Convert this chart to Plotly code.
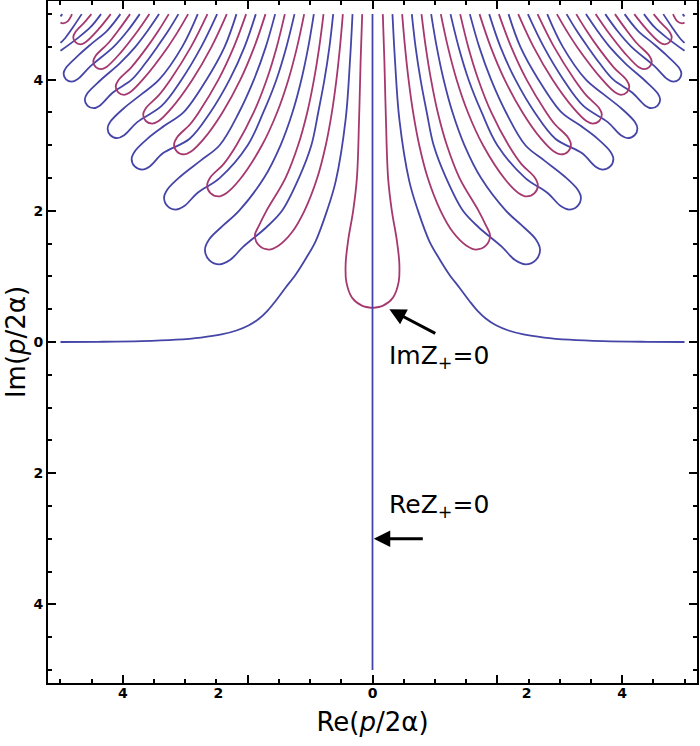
import plotly.graph_objects as go

BLUE = "#4545a8"
RED = "#a5386f"

# curves read off the right half (x >= 0); the left half is the mirror image
# Im Z+ = 0 : central drop
red_center = [(0.165, 5.0), (0.19, 4.3), (0.215, 3.4), (0.25, 2.5), (0.31, 2.0), (0.39, 1.55),
              (0.43, 1.2), (0.42, 0.92), (0.33, 0.68), (0.17, 0.555), (0.0, 0.52)]

# Re Z+ = 0 : curve that bends into the real axis
blue_sep = [(0.32, 5.0), (0.36, 4.3), (0.43, 3.4), (0.59, 2.45), (0.73, 2.0), (0.91, 1.54), (1.07, 1.27),
            (1.23, 1.03), (1.40, 0.82), (1.55, 0.63), (1.68, 0.48), (1.82, 0.355), (1.98, 0.255),
            (2.18, 0.175), (2.42, 0.115), (2.75, 0.068), (3.15, 0.035), (3.7, 0.013), (4.4, 0.003),
            (5.0, 0.0)]

# Im Z+ = 0 fingers
red_1 = [(0.475, 5.0), (0.521, 4.5), (0.578, 4.0), (0.651, 3.5), (0.749, 3.0), (0.886, 2.5), (1.091, 2.0),
         (1.291, 1.673), (1.501, 1.473), (1.66, 1.41), (1.819, 1.473), (1.885, 1.624), (1.819, 1.775),
         (1.70, 2.0), (1.395, 2.5), (1.192, 3.0), (1.046, 3.5), (0.938, 4.0), (0.853, 4.5), (0.785, 5.0)]
red_2 = [(1.095, 5.0), (1.208, 4.5), (1.348, 4.0), (1.529, 3.5), (1.771, 3.0), (2.133, 2.47), (2.343, 2.27),
         (2.47, 2.22), (2.597, 2.27), (2.65, 2.391), (2.597, 2.512), (2.387, 2.712), (2.181, 3.0),
         (1.904, 3.5), (1.696, 4.0), (1.534, 4.5), (1.405, 5.0)]
red_3 = [(1.715, 5.0), (1.894, 4.5), (2.117, 4.0), (2.404, 3.5), (2.697, 3.104), (2.907, 2.904), (3.02, 2.86),
         (3.133, 2.904), (3.18, 3.012), (3.133, 3.12), (2.923, 3.32), (2.785, 3.5), (2.469, 4.0),
         (2.222, 4.5), (2.025, 5.0)]
red_4 = [(2.335, 5.0), (2.580, 4.5), (2.886, 4.0), (3.217, 3.57), (3.427, 3.37), (3.53, 3.33), (3.633, 3.37),
         (3.675, 3.468), (3.633, 3.565), (3.423, 3.765), (3.238, 4.0), (2.909, 4.5), (2.645, 5.0)]
red_5 = [(2.955, 5.0), (3.108, 4.75), (3.278, 4.5), (3.675, 4.008), (3.885, 3.808), (3.98, 3.77),
         (4.075, 3.808), (4.115, 3.898), (4.075, 3.989), (3.865, 4.189), (3.609, 4.5), (3.428, 4.75),
         (3.265, 5.0)]
red_6 = [(3.575, 5.0), (3.757, 4.75), (4.052, 4.395), (4.262, 4.195), (4.35, 4.16), (4.438, 4.195),
         (4.475, 4.279), (4.438, 4.363), (4.228, 4.563), (4.074, 4.75), (3.885, 5.0)]
red_7 = [(4.195, 5.0), (4.39, 4.77), (4.599, 4.572), (4.68, 4.54), (4.761, 4.572), (4.795, 4.649),
         (4.761, 4.727), (4.62, 4.87), (4.505, 5.0)]
red_8 = [(4.815, 5.0), (4.886, 4.889), (4.96, 4.86), (5.0, 4.87)]

# Re Z+ = 0 fingers
blue_1 = [(0.63, 5.0), (0.69, 4.5), (0.77, 4.0), (0.87, 3.5), (0.98, 3.0), (1.18, 2.5), (1.45, 2.0),
          (1.70, 1.75), (2.074, 1.45), (2.284, 1.25), (2.45, 1.185), (2.616, 1.25), (2.685, 1.408),
          (2.616, 1.566), (2.406, 1.766), (2.140, 2.0), (1.740, 2.5), (1.474, 3.0), (1.283, 3.5),
          (1.140, 4.0), (1.029, 4.5), (0.94, 5.0)]
blue_2 = [(1.25, 5.0), (1.38, 4.5), (1.54, 4.0), (1.75, 3.5), (2.0, 3.0), (2.45, 2.5), (2.806, 2.273),
          (3.016, 2.073), (3.15, 2.02), (3.284, 2.073), (3.34, 2.201), (3.284, 2.328), (3.074, 2.528),
          (2.75, 2.77), (2.45, 3.0), (2.14, 3.5), (1.90, 4.0), (1.71, 4.5), (1.56, 5.0)]
blue_3 = [(1.87, 5.0), (2.05, 4.5), (2.29, 4.0), (2.60, 3.5), (2.93, 3.1), (3.36, 2.877), (3.57, 2.677),
          (3.69, 2.63), (3.81, 2.677), (3.86, 2.792), (3.81, 2.906), (3.6, 3.106), (3.33, 3.3),
          (3.03, 3.5), (2.66, 4.0), (2.37, 4.5), (2.18, 5.0)]
blue_4 = [(2.49, 5.0), (2.745, 4.5), (3.06, 4.0), (3.38, 3.6), (3.77, 3.353), (3.98, 3.153), (4.09, 3.11),
          (4.2, 3.153), (4.245, 3.257), (4.2, 3.361), (3.99, 3.561), (3.70, 3.78), (3.42, 4.0),
          (3.05, 4.5), (2.80, 5.0)]
blue_5 = [(3.11, 5.0), (3.27, 4.75), (3.45, 4.5), (3.64, 4.25), (3.86, 4.0), (4.161, 3.804), (4.371, 3.604),
          (4.47, 3.565), (4.569, 3.604), (4.61, 3.698), (4.569, 3.792), (4.359, 3.992), (4.05, 4.25),
          (3.80, 4.5), (3.6, 4.75), (3.42, 5.0)]
blue_6 = [(3.73, 5.0), (3.92, 4.75), (4.15, 4.5), (4.518, 4.206), (4.728, 4.006), (4.82, 3.97),
          (4.912, 4.006), (4.95, 4.094), (4.912, 4.181), (4.702, 4.381), (4.50, 4.55), (4.25, 4.75),
          (4.04, 5.0)]
blue_7a = [(4.35, 5.0), (4.52, 4.8), (4.73, 4.63), (5.0, 4.44)]
blue_7b = [(4.66, 5.0), (4.80, 4.8), (4.92, 4.64), (5.0, 4.56)]
blue_8 = [(4.97, 5.0), (5.0, 4.965)]

red_curves = [red_center, red_1, red_2, red_3, red_4, red_5, red_6, red_7, red_8]
blue_curves = [blue_sep, blue_1, blue_2, blue_3, blue_4, blue_5, blue_6, blue_7a, blue_7b, blue_8]

# Re Z+ = 0 along the imaginary axis
axis_line_x = [0.0, 0.0]
axis_line_y = [-5.0, 5.0]

tick_vals = [-4, -2, 0, 2, 4]
tick_text = ["4", "2", "0", "2", "4"]
x_label_at = [-4, -2.47, 0, 2.47, 4]   # x labels sit a bit off their ticks in the original

fig = go.Figure()


def add_curve(points, color):
    xs = [p[0] for p in points]
    ys = [p[1] for p in points]
    for sign in (1, -1):
        fig.add_trace(go.Scatter(x=[sign * v for v in xs], y=ys, mode="lines",
                                 line=dict(color=color, width=1.8, shape="spline", smoothing=1.0),
                                 hoverinfo="skip", showlegend=False))


for c in blue_curves:
    add_curve(c, BLUE)
for c in red_curves:
    add_curve(c, RED)

fig.add_trace(go.Scatter(x=axis_line_x, y=axis_line_y, mode="lines",
                         line=dict(color=BLUE, width=1.8), hoverinfo="skip", showlegend=False))
# carrier for the label-only axis
fig.add_trace(go.Scatter(x=[None], y=[None], xaxis="x2", mode="lines",
                         hoverinfo="skip", showlegend=False))

tick_font = dict(family="DejaVu Sans", size=14, color="black", weight="bold")
axis_common = dict(range=[-5.2, 5.2], showgrid=False, zeroline=False, showline=True,
                   linecolor="black", linewidth=2, mirror="ticks", ticks="inside",
                   ticklen=8, tickwidth=2, tickcolor="black", tickvals=tick_vals, automargin=False,
                   minor=dict(ticks="inside", ticklen=4, tickwidth=1.5, dtick=0.5, tick0=0,
                              tickcolor="black"))

fig.update_layout(
    width=700, height=746,
    margin=dict(l=48, r=3, t=1, b=63),
    paper_bgcolor="white", plot_bgcolor="white",
    xaxis=dict(**axis_common, showticklabels=False,
               title=dict(text="Re(<i>p</i>/2α)", font=dict(family="DejaVu Sans", size=26, color="black"),
                          standoff=29)),
    xaxis2=dict(range=[-5.2, 5.2], overlaying="x", anchor="y", side="bottom", automargin=False,
                showgrid=False, zeroline=False, showline=False, ticks="",
                tickvals=x_label_at, ticktext=tick_text, tickfont=tick_font),
    yaxis=dict(**axis_common, ticktext=tick_text, tickfont=tick_font,
               title=dict(text="Im(<i>p</i>/2α)", font=dict(family="DejaVu Sans", size=26, color="black"),
                          standoff=0)),
)

label_font = dict(family="DejaVu Sans", size=25, color="black")
fig.add_annotation(x=0.225, y=-0.23, xref="x", yref="y", text="ImZ<sub>+</sub>=0",
                   showarrow=False, xanchor="left", yanchor="middle", font=label_font)
fig.add_annotation(x=0.225, y=-2.5, xref="x", yref="y", text="ReZ<sub>+</sub>=0",
                   showarrow=False, xanchor="left", yanchor="middle", font=label_font)
fig.add_annotation(x=0.27, y=0.50, ax=1.03, ay=0.12, xref="x", yref="y", axref="x", ayref="y",
                   text="", showarrow=True, arrowhead=2, arrowsize=1.1, arrowwidth=3, arrowcolor="black")
fig.add_annotation(x=0.02, y=-3.0, ax=0.83, ay=-3.0, xref="x", yref="y", axref="x", ayref="y",
                   text="", showarrow=True, arrowhead=2, arrowsize=1.1, arrowwidth=3, arrowcolor="black")

fig.write_html("out.html", config={"displayModeBar": False},
               post_script="document.body.style.margin='0px';")
